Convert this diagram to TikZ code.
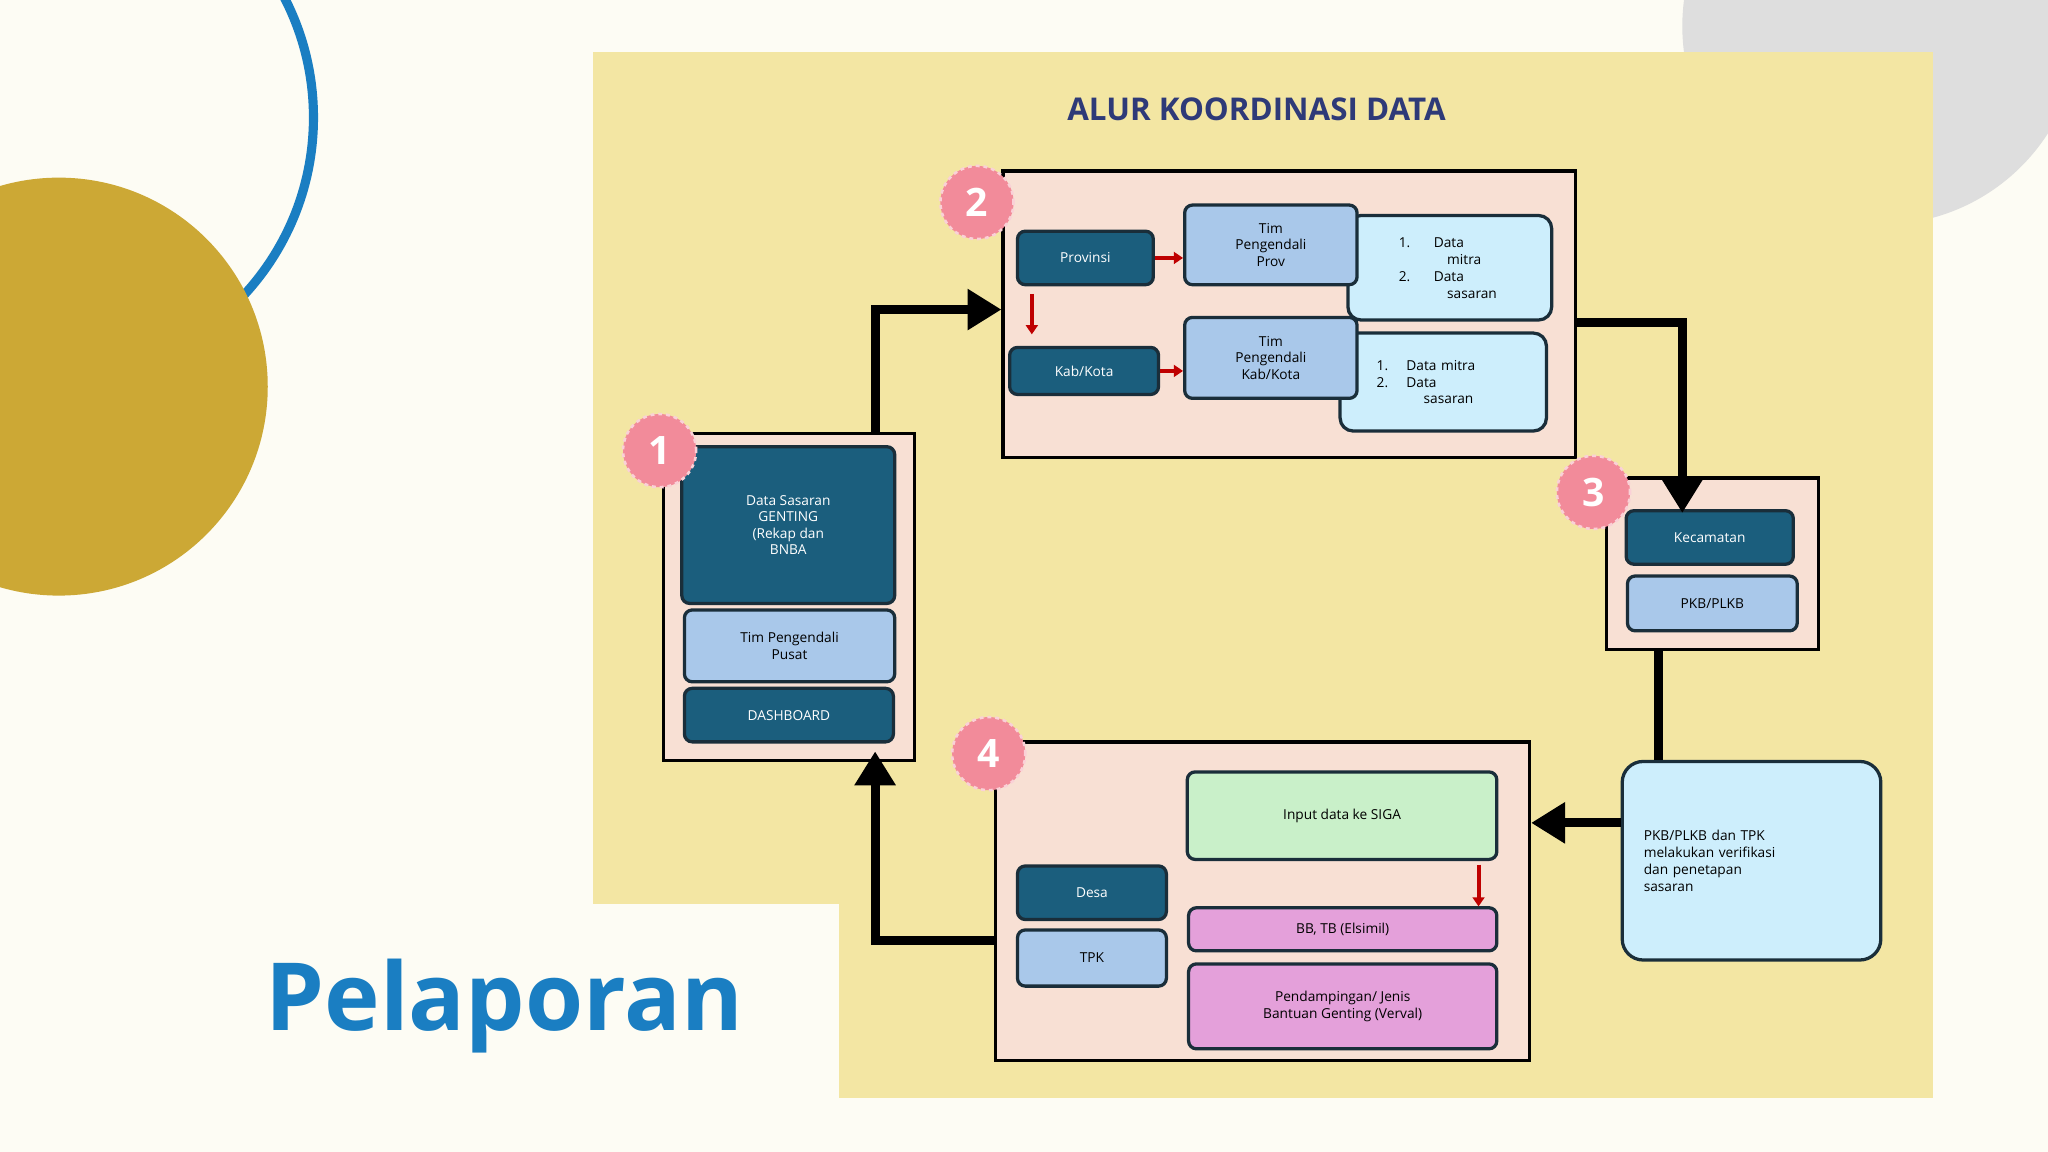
\documentclass[tikz,border=0pt]{standalone}
\usepackage{fontspec}
\setmainfont{Open Sans}
\usetikzlibrary{arrows.meta}
\definecolor{bgc}{HTML}{FDFCF4}
\definecolor{panel}{HTML}{F3E6A3}
\definecolor{pinkbox}{HTML}{F8E0D4}
\definecolor{dteal}{HTML}{1B5E7D}
\definecolor{lblue}{HTML}{A9C8EA}
\definecolor{cyanbox}{HTML}{CDEEFC}
\definecolor{gbox}{HTML}{C9F0C9}
\definecolor{mbox}{HTML}{E4A0DA}
\definecolor{navy}{HTML}{2E3A78}
\definecolor{blu}{HTML}{1A7EC2}
\definecolor{gold}{HTML}{CCA835}
\definecolor{badge}{HTML}{F28B9A}
\definecolor{edge}{HTML}{1A2E3A}
\tikzset{
 outer/.style={draw=black,line width=2.5pt,fill=pinkbox},
 dk/.style={draw=edge,line width=2.5pt,fill=dteal,text=white,rounded corners=6pt,font=\fontsize{10.5}{12.5}\selectfont,align=center},
 lb/.style={draw=edge,line width=2.5pt,fill=lblue,text=black,rounded corners=6pt,font=\fontsize{10.5}{12.5}\selectfont,align=center},
 cy/.style={draw=edge,line width=2.5pt,fill=cyanbox,text=black,rounded corners=10pt,font=\fontsize{10.5}{13}\selectfont,align=left},
 gr/.style={draw=edge,line width=2.5pt,fill=gbox,rounded corners=6pt,font=\fontsize{10.5}{12.5}\selectfont,align=center},
 mg/.style={draw=edge,line width=2.5pt,fill=mbox,rounded corners=6pt,font=\fontsize{10.5}{12.5}\selectfont,align=center},
 bk/.style={line width=7pt,-{Triangle[width=30pt,length=26pt]}},
 bkn/.style={line width=7pt},
 rd/.style={draw=red!75!black,line width=3pt,-{Triangle[width=9pt,length=7pt]}},
 bdg/.style={circle,fill=badge,draw=badge!40!white,dashed,line width=2pt,minimum size=56pt,text=white,font=\bfseries\fontsize{30}{30}\selectfont,inner sep=0pt},
}
\begin{document}
\begin{tikzpicture}[x=1pt,y=-1pt]
\useasboundingbox (0,0) rectangle (1568,882);
\fill[bgc] (0,0) rectangle (1568,882);
\begin{scope}
\clip (0,0) rectangle (1568,882);
\fill[black!13] (1440,20) circle (152);
\draw[blu,line width=7pt] (40,90) circle (200);
\fill[gold] (45,296) circle (160);
\end{scope}
\fill[panel] (454,40) rectangle (1480,841);
\fill[bgc] (454,692) rectangle (642,841);
\node[text=navy,font=\bfseries\fontsize{24}{24}\selectfont] (title) at (962,84) {ALUR KOORDINASI DATA};
\node[text=blu,font=\bfseries\fontsize{72}{72}\selectfont] (pel) at (386,770) {Pelaporan};

% box 1
\node[outer,minimum width=192,minimum height=250] (b1) at (604,457) {};
\node[dk,minimum width=163,minimum height=120] (d1) at (603.5,402) {Data Sasaran\\GENTING\\(Rekap dan\\BNBA};
\node[lb,minimum width=161,minimum height=55] (t1) at (604.5,494.5) {Tim Pengendali\\Pusat};
\node[dk,minimum width=160,minimum height=41] (dash) at (604,547.5) {DASHBOARD};
% box 2
\node[outer,minimum width=438,minimum height=219] (b2) at (987,240.5) {};
\node[cy,minimum width=156,minimum height=80,text width=130] (l1) at (1110,205) {\hspace*{26pt}1.\hspace{18pt}Data\\\hspace*{63pt}mitra\\\hspace*{26pt}2.\hspace{18pt}Data\\\hspace*{63pt}sasaran};
\node[cy,minimum width=158,minimum height=75,text width=130] (l2) at (1105,292.5) {\hspace*{14pt}1.\hspace{14pt}Data mitra\\\hspace*{14pt}2.\hspace{14pt}Data\\\hspace*{50pt}sasaran};
\node[dk,minimum width=104,minimum height=41] (prov) at (831,197.5) {Provinsi};
\node[dk,minimum width=114,minimum height=36] (kab) at (830,284) {Kab/Kota};
\node[lb,minimum width=132,minimum height=61] (tprov) at (973,187.5) {Tim\\Pengendali\\Prov};
\node[lb,minimum width=132,minimum height=62] (tkab) at (973,274) {Tim\\Pengendali\\Kab/Kota};
\draw[rd] (prov.east) -- (tprov.west |- prov.east);
\draw[rd] (kab.east) -- (tkab.west |- kab.east);
\coordinate (r1) at (790,225); \coordinate (r2) at (790,256);
\draw[rd] (r1) -- (r2);
% box 3
\node[outer,minimum width=162,minimum height=131] (b3) at (1311,431.5) {};
\node[dk,minimum width=128,minimum height=41] (kec) at (1309,411.5) {Kecamatan};
\node[lb,minimum width=130,minimum height=42] (pkb) at (1311,462) {PKB/PLKB};
% verification
\node[cy,minimum width=198,minimum height=152,rounded corners=16pt,text width=165] (ver) at (1341,659) {PKB/PLKB dan TPK\\melakukan verifikasi\\dan penetapan\\sasaran};
% box 4
\node[outer,minimum width=409,minimum height=244] (b4) at (966.5,690) {};
\node[dk,minimum width=114,minimum height=41] (desa) at (836,683.5) {Desa};
\node[lb,minimum width=114,minimum height=43] (tpk) at (836,733.5) {TPK};
\node[gr,minimum width=237,minimum height=67] (siga) at (1027.5,624.5) {Input data ke SIGA};
\node[mg,minimum width=236,minimum height=33] (bb) at (1028,711.5) {BB, TB (Elsimil)};
\node[mg,minimum width=236,minimum height=65] (pend) at (1028,770.5) {Pendampingan/ Jenis\\Bantuan Genting (Verval)};
\coordinate (r3) at (1132,662); \coordinate (r4) at (1132,694);
\draw[rd] (r3) -- (r4);
% badges
\node[bdg] (n1) at (505,345) {1};
\node[bdg] (n2) at (748,155) {2};
\node[bdg] (n3) at (1220,377) {3};
\node[bdg] (n4) at (757,577) {4};
% black arrows
\coordinate (xa) at (670,0); \coordinate (ya) at (0,237);
\coordinate (xb) at (1288,0); \coordinate (yb) at (0,247);
\coordinate (xc) at (1270,0); \coordinate (yc) at (0,630); \coordinate (yd) at (0,720);
\draw[bk] (b1.north -| xa) |- (b2.west |- ya);
\draw[bk,shorten >=-2pt] (b2.east |- yb) -| ([yshift=-26pt]b3.north -| xb);
\draw[bkn] (b3.south -| xc) -- (ver.north -| xc);
\draw[bk] (ver.west |- yc) -- (b4.east |- yc);
\draw[bk] (b4.west |- yd) -| ([yshift=8pt]b1.south -| xa);
\end{tikzpicture}
\end{document}
